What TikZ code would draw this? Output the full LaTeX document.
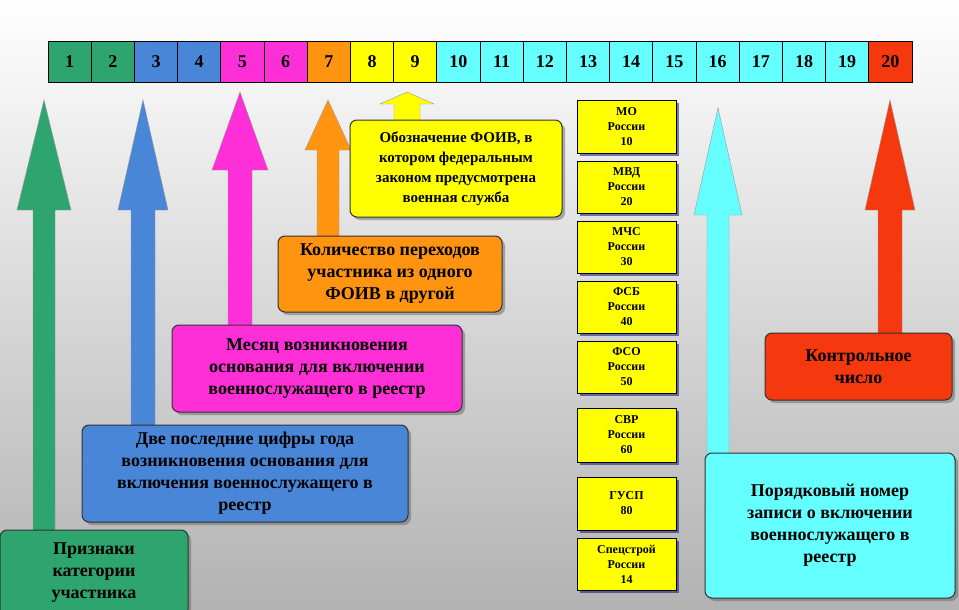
\documentclass[tikz,border=0pt]{standalone}
\usepackage{fontspec}
\setmainfont{Liberation Serif}
\usetikzlibrary{shadows}
\definecolor{cgreen}{HTML}{2EA56E}
\definecolor{cblue}{HTML}{4A86D8}
\definecolor{cmag}{HTML}{FF2FD8}
\definecolor{corange}{HTML}{FF9410}
\definecolor{cyel}{HTML}{FFFF00}
\definecolor{ccyan}{HTML}{66FFFF}
\definecolor{cred}{HTML}{F5380E}
\definecolor{bgrey}{HTML}{D8D8D8}
\begin{document}
\begin{tikzpicture}[x=1pt,y=-1pt,
  cell/.style={draw=black,line width=0.8pt,minimum width=43.2pt,minimum height=41pt,font=\bfseries\fontsize{18}{18}\selectfont,inner sep=0pt},
  lbox/.style={draw=black!80,line width=1pt,rounded corners=7pt,align=center,font=\bfseries\fontsize{18}{22}\selectfont,inner sep=2pt,drop shadow={shadow xshift=3pt,shadow yshift=-3pt,fill=black!60}},
  ybox/.style={draw=black,line width=0.8pt,fill=cyel,minimum width=99pt,align=center,font=\bfseries\fontsize{12}{15}\selectfont,inner sep=1pt,drop shadow={shadow xshift=3pt,shadow yshift=-3pt,fill=blue!40!black}}]
\useasboundingbox (0,0) rectangle (959,610);
\shade[top color=white,bottom color=bgrey] (0,0) rectangle (959,305);
\shade[top color=bgrey,bottom color=black!30] (0,305) rectangle (959,610);
% cells
\foreach \i/\c in {1/cgreen,2/cgreen,3/cblue,4/cblue,5/cmag,6/cmag,7/corange,8/cyel,9/cyel,10/ccyan,11/ccyan,12/ccyan,13/ccyan,14/ccyan,15/ccyan,16/ccyan,17/ccyan,18/ccyan,19/ccyan,20/cred}
  \node[cell,fill=\c] (c\i) at ({48+43.2*(\i-0.5)},61.5) {\i};
% arrows
\newcommand{\myarrow}[7]{\fill[#1,draw=black!40] (#2-#3,#7) -- (#2-#3,#6) -- (#2-#4,#6) -- (#2,#5) -- (#2+#4,#6) -- (#2+#3,#6) -- (#2+#3,#7) -- cycle;}
\myarrow{cgreen}{44}{11}{27}{100}{210}{535}
\myarrow{cblue}{143}{12}{25}{100}{210}{430}
\myarrow{cmag}{240}{12}{28}{92}{170}{330}
\myarrow{corange}{328}{11}{23}{100}{150}{240}
\myarrow{cyel}{407}{13}{27}{92}{104}{125}
\myarrow{ccyan}{718}{11}{24}{108}{215}{458}
\myarrow{cred}{890}{12}{25}{100}{210}{335}
% label boxes
\node[lbox,fill=cyel,minimum width=212pt,minimum height=97pt,font=\bfseries\fontsize{15}{20}\selectfont] (fo) at (456,168.5) {Обозначение ФОИВ, в\\ котором федеральным\\ законом предусмотрена\\ военная служба};
\node[lbox,fill=corange,minimum width=224pt,minimum height=76pt] (kp) at (390,274) {Количество переходов\\ участника из одного\\ ФОИВ в другой};
\node[lbox,fill=cmag,minimum width=290pt,minimum height=87pt] (ms) at (317,368.5) {Месяц возникновения\\ основания для включении\\ военнослужащего в реестр};
\node[lbox,fill=cblue,minimum width=326pt,minimum height=97pt] (dv) at (245,473.5) {Две последние цифры года\\ возникновения основания для\\ включения военнослужащего в\\ реестр};
\node[lbox,fill=cgreen,minimum width=188pt,minimum height=86pt] (pk) at (94,573) {Признаки\\ категории\\ участника};
\node[lbox,fill=ccyan,minimum width=250pt,minimum height=145pt] (pn) at (830,525.5) {Порядковый номер\\ записи о включении\\ военнослужащего в\\ реестр};
\node[lbox,fill=cred,minimum width=187pt,minimum height=67pt] (kc) at (858.5,366.5) {Контрольное\\ число};
% yellow column
\foreach \n/\t/\b/\txt in {
 mo/100/153/{МО\\ России\\ 10},
 mvd/161/213/{МВД\\ России\\ 20},
 mchs/221/273/{МЧС\\ России\\ 30},
 fsb/281/333/{ФСБ\\ России\\ 40},
 fso/341/393/{ФСО\\ России\\ 50},
 svr/408/462/{СВР\\ России\\ 60},
 gusp/477/530/{ГУСП\\ 80},
 sps/538/590/{Спецстрой\\ России\\ 14}}
 \node[ybox,minimum height={\b-\t}] (\n) at (626.5,{(\t+\b)/2}) {\txt};
\end{tikzpicture}
\end{document}
